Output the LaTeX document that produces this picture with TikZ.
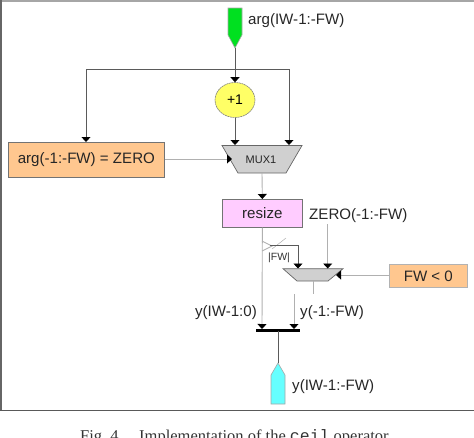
\documentclass[tikz,border=0pt]{standalone}
\usepackage{fontspec}
\setmainfont{Liberation Sans}
\newfontfamily\capfont{Liberation Serif}
\newfontfamily\capmono{Liberation Mono}
\usetikzlibrary{arrows.meta,shapes.geometric}
\definecolor{wire}{HTML}{5A5A5A}
\definecolor{wirelight}{HTML}{B0B0B0}
\definecolor{orangebox}{HTML}{FFC78F}
\definecolor{pinkbox}{HTML}{FFCCFF}
\definecolor{muxgray}{HTML}{D0D0D0}
\definecolor{ingreen}{HTML}{00E020}
\definecolor{outcyan}{HTML}{66FFFF}
\definecolor{incyellow}{HTML}{FFFF66}
\tikzset{
  x=1pt,y=-1pt,
  wireline/.style={draw=wire,line width=0.9pt},
  softline/.style={draw=wirelight,line width=0.9pt},
  headed/.style={-{Triangle[length=5pt,width=9pt,fill=black,color=black]}},
  lbl/.style={font=\fontsize{15.1}{17}\selectfont,text=black!85,inner sep=0pt},
  opbox/.style={draw=black!55,line width=0.7pt,inner sep=0pt,anchor=north west},
  muxshape/.style={draw=black!60,fill=muxgray,line width=0.7pt},
}
\begin{document}
\begin{tikzpicture}
\useasboundingbox (0,0) rectangle (474,437);
\clip (0,0) rectangle (474,437);
% frame
\draw[draw=black!35,line width=2pt] (0,1) -- (474,1);
\draw[draw=black!60,line width=1.6pt] (1,0) -- (1,410.5);
\draw[draw=black!65,line width=0.9pt] (0,410.5) -- (474,410.5);
% coordinates
\coordinate (intip) at (235,48);
\coordinate (branch) at (235,69);
\coordinate (bl) at (86,69);
\coordinate (br) at (289,69);
\coordinate (m1a) at (235,145);
\coordinate (m1b) at (289,145);
\coordinate (m1s) at (232,159);
\coordinate (m1o) at (262,173);
\coordinate (m2a) at (298,268.5);
\coordinate (m2b) at (327.7,268.5);
\coordinate (m2s) at (336,275);
\coordinate (m2o) at (313,281);
\coordinate (m2e) at (313,294);
\coordinate (tap) at (262,245.7);
\coordinate (tapc) at (298,245.7);
\coordinate (zstart) at (327.7,224);
\coordinate (jstart) at (294,294);
\coordinate (j1) at (262,329);
\coordinate (j2) at (294,329);
\coordinate (jl) at (256,330.5);
\coordinate (jr) at (300,330.5);
\coordinate (jm) at (278,330.5);
\coordinate (outtip) at (278,363);
% input and output pins
\draw[draw=black!35,fill=ingreen,line width=0.6pt] (228,8) -- (242,8) -- (242,35) -- (intip) -- (228,35) -- cycle;
\draw[draw=black!35,fill=outcyan,line width=0.6pt] (271,404) -- (285,404) -- (285,375) -- (outtip) -- (271,375) -- cycle;
\node[lbl,anchor=west] (inlbl) at (248,21) {arg(IW-1:-FW)};
\node[lbl,anchor=west] (outlbl) at (292,387) {y(IW-1:-FW)};
% blocks
\node[draw=black!50,dash pattern=on 2pt off 0.6pt,fill=incyellow,ellipse,minimum width=40pt,minimum height=35pt,inner sep=0pt,line width=0.6pt,font=\fontsize{14}{16}\selectfont] (inc) at (235,100) {+1};
\node[opbox,fill=orangebox,minimum width=156pt,minimum height=35pt] (zero) at (8,142) {};
\node[lbl] at (zero.center) {arg(-1:-FW) = ZERO};
\node[opbox,fill=pinkbox,minimum width=80pt,minimum height=28pt] (resize) at (222,199) {};
\node[lbl] at (resize.center) {resize};
\node[opbox,fill=orangebox,draw=black!30,minimum width=78pt,minimum height=23pt] (fw) at (389,264) {};
\node[lbl] at (fw.center) {FW < 0};
\draw[muxshape] (222,145.5) -- (302,145.5) -- (286,173) -- (238,173) -- cycle;
\node[font=\fontsize{11}{13}\selectfont,text=black!85,inner sep=0pt] (mux1) at (261,159.5) {MUX1};
\draw[muxshape] (283,268.7) -- (343,268.7) -- (328,281) -- (297,281) -- cycle;
\node[inner sep=0pt] (mux2) at (313,275) {};
% connectors
\draw[wireline] (intip) -- (branch);
\draw[wireline,headed] (branch) -- (inc.north);
\draw[wireline,headed] (bl) -- (zero.north -| bl);
\draw[wireline,headed] (br) -- (m1b);
\draw[wireline] (bl) -- (br);
\draw[wireline,headed] (inc.south) -- (m1a);
\draw[softline,headed] (zero.east |- m1s) -- (m1s);
\draw[softline,headed] (m1o) -- (resize.north);
\draw[softline,headed] (resize.south) -- (j1);
\draw[softline] (262,241) -- (272,246) -- (262,251);
\draw[softline,line width=0.5pt] (272,249) -- (286,238);
\draw[wireline,headed] (270,245.7) -- (tapc) -- (m2a);
\draw[softline,headed] (zstart) -- (m2b);
\draw[softline,headed] (fw.west |- m2s) -- (m2s);
\draw[softline] (m2o) -- (m2e);
\draw[softline,headed] (jstart) -- (j2);
\draw[draw=black,line width=2.2pt] (jl) -- (jr);
\draw[wireline] (jm) -- (outtip);
% labels
\node[lbl,anchor=west] (zlbl) at (309,216) {ZERO(-1:-FW)};
\node[lbl,anchor=east] (ylbl) at (257,312.5) {y(IW-1:0)};
\node[lbl,anchor=west] (ylbl2) at (300,312.5) {y(-1:-FW)};
\node[font=\fontsize{10.5}{12}\selectfont,text=black!80,inner sep=0pt] (fwlbl) at (279,258) {|FW|};
% caption
\node[inner sep=0pt,anchor=base,text=black!80,font=\capfont\fontsize{16.5}{18}\selectfont] (cap) at (236,441) {Fig.~4.\quad Implementation of the {\capmono ceil} operator.};
\end{tikzpicture}
\end{document}
